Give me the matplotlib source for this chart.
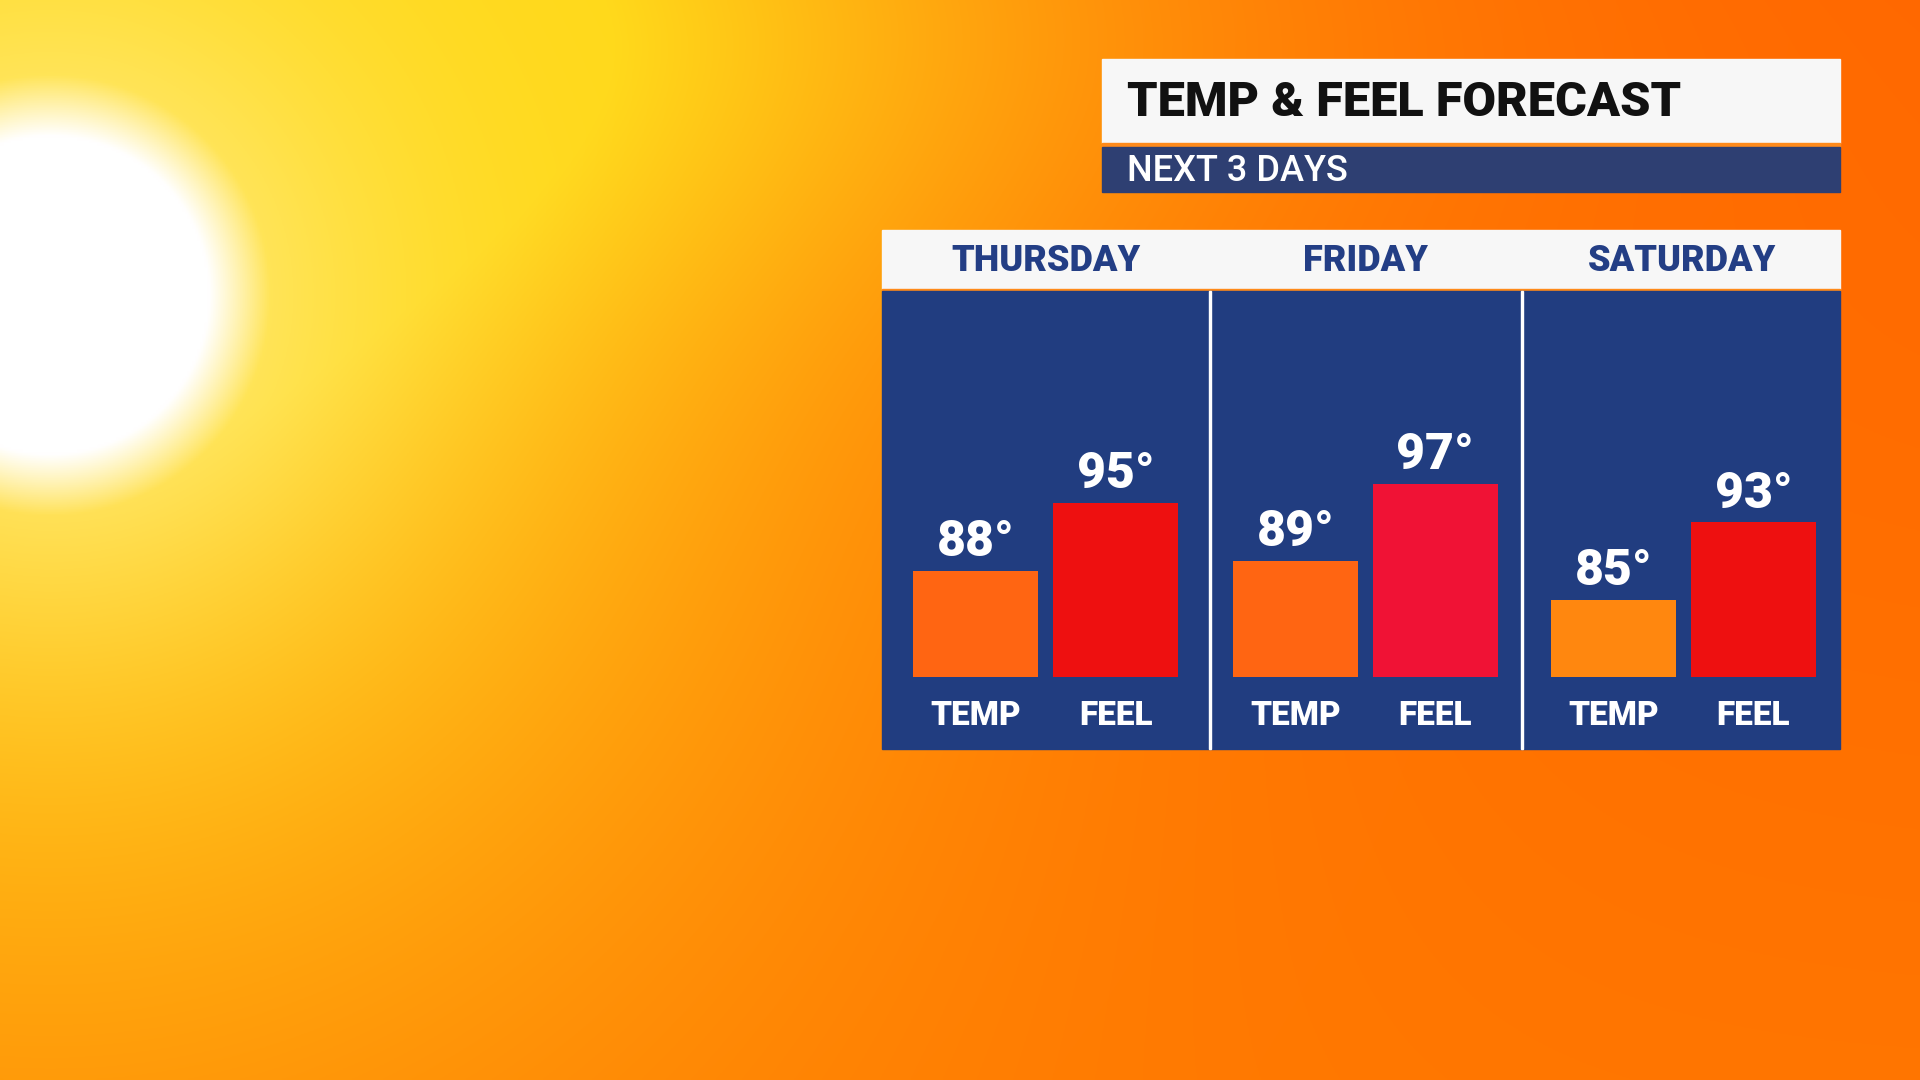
import numpy as np
import matplotlib
matplotlib.use('Agg')
import matplotlib.pyplot as plt
from matplotlib.patches import Rectangle

plt.rcParams['font.family'] = ['Roboto', 'DejaVu Sans']

days = ['THURSDAY', 'FRIDAY', 'SATURDAY']
temp = [88, 89, 85]
feel = [95, 97, 93]
temp_colors = ['#FF6512', '#FF6512', '#FF870F']
feel_colors = ['#EE1010', '#F01235', '#EE1010']

W, H = 1568, 882
fig = plt.figure(figsize=(19.2, 10.8), dpi=100)
bg = fig.add_axes([0, 0, 1, 1])
bg.set_xlim(0, W)
bg.set_ylim(H, 0)
bg.axis('off')

# background: hot orange sky with the sun glow at the top left
yy, xx = np.mgrid[0:H:2, 0:W:2]
d = np.hypot(xx - 40, yy - 240)
glow = np.exp(-(d / 650.0) ** 2)
top = np.exp(-((yy / 250.0) ** 2)) * np.exp(-((xx - 300) / 700.0) ** 2)
glow = np.clip(glow + 0.5 * top, 0, 1)
halo = np.exp(-(d / 260.0) ** 2)
core = np.clip((180 - d) / 50.0, 0, 1)
base = np.stack([np.full_like(d, 1.0), 0.40 + 0.06 * (yy / H), np.zeros_like(d)], -1)
yellow = np.array([1.0, 0.85, 0.1])
img = base * (1 - glow[..., None]) + yellow * glow[..., None]
img = img * (1 - 0.6 * halo[..., None]) + np.array([1, 0.97, 0.75]) * 0.6 * halo[..., None]
img = img * (1 - core[..., None]) + np.array([1, 1, 1]) * core[..., None]
bg.imshow(np.clip(img, 0, 1), extent=[0, W, H, 0], aspect='auto', zorder=0)

# title boxes
bg.add_patch(Rectangle((900, 48), 603, 69, color='#F7F7F7', zorder=2))
bg.add_patch(Rectangle((900, 117), 603, 3, color='#FF8A1A', zorder=2))
bg.add_patch(Rectangle((900, 120), 603, 37, color='#2E3F72', zorder=2))
bg.text(920, 84, 'TEMP & FEEL FORECAST', fontsize=35, fontweight='black',
        color='#111111', va='center', zorder=3)
bg.text(920, 140, 'NEXT 3 DAYS', fontsize=26, fontweight='medium',
        color='white', va='center', zorder=3)

# panel
bg.add_patch(Rectangle((720, 188), 783, 48, color='#F7F7F7', zorder=2))
bg.add_patch(Rectangle((720, 236), 783, 2, color='#FF8A1A', zorder=2))
bg.add_patch(Rectangle((720, 238), 783, 374, color='#213D80', zorder=2))
for x in (988, 1243):
    bg.add_patch(Rectangle((x - 1, 238), 2, 374, color='white', zorder=3))
day_centers = [854, 1115, 1374]
for cx, name in zip(day_centers, days):
    bg.text(cx, 213, name, fontsize=26, fontweight='heavy', color='#233E85',
            ha='center', va='center', zorder=3)

# bars
base_val, px_per_deg = 77, 7.9
top_px, bot_px = 237, 553
ax = fig.add_axes([720 / W, (H - bot_px) / H, 783 / W, (bot_px - top_px) / H])
ax.set_xlim(720, 1503)
ax.set_ylim(base_val, base_val + (bot_px - top_px) / px_per_deg)
ax.axis('off')
temp_x = [797, 1058, 1318]
feel_x = [911, 1172, 1432]
ax.bar(temp_x, np.array(temp) - base_val, bottom=base_val, width=102, color=temp_colors)
ax.bar(feel_x, np.array(feel) - base_val, bottom=base_val, width=102, color=feel_colors)
for xs, vals in ((temp_x, temp), (feel_x, feel)):
    for x, v in zip(xs, vals):
        ax.text(x, v + 0.5, f'{v}°', fontsize=36, fontweight='heavy', color='white',
                ha='center', va='bottom')
for xs, lab in ((temp_x, 'TEMP'), (feel_x, 'FEEL')):
    for x in xs:
        bg.text(x, 585, lab, fontsize=24, fontweight='heavy', color='white',
                ha='center', va='center', zorder=3)

fig.savefig('out.png', dpi=100)
